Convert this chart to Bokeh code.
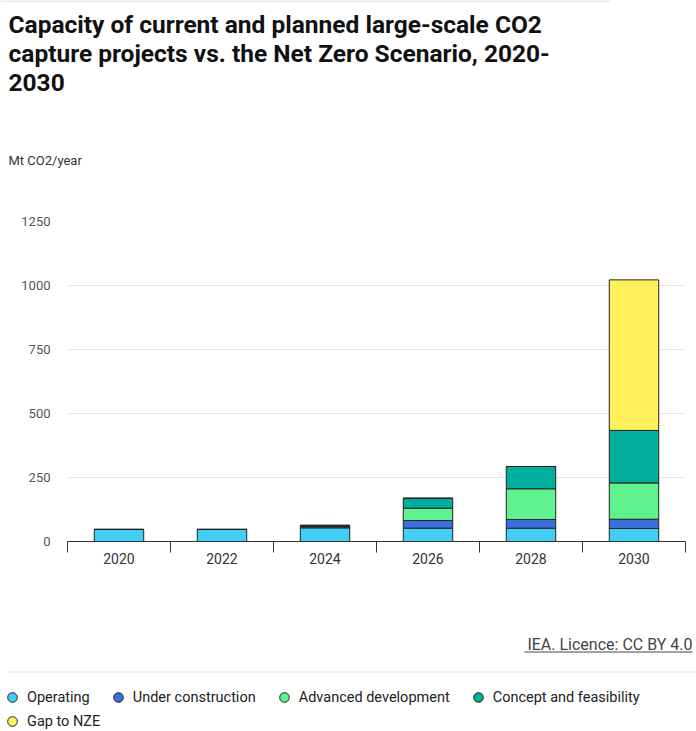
from bokeh.plotting import figure
from bokeh.layouts import column
from bokeh.models import (ColumnDataSource, FixedTicker, Label, Legend, LegendItem, Range1d)
from bokeh.embed import file_html
from bokeh.resources import INLINE

# ---------------- data ----------------
years = ["2020", "2022", "2024", "2026", "2028", "2030"]
operating = [47, 47, 54, 52, 52, 51]
under_construction = [0, 0, 0, 30, 34, 36]
advanced_development = [0, 0, 4, 48, 120, 142]
concept_feasibility = [0, 0, 5, 39, 87, 205]
gap_to_nze = [0, 0, 0, 0, 0, 588]
y_ticks = [0, 250, 500, 750, 1000, 1250]

series = ["Operating", "Under construction", "Advanced development",
          "Concept and feasibility", "Gap to NZE"]
colors = ["#42cdf6", "#3a6fdc", "#5ff28f", "#00ae9b", "#fff15c"]

title_lines = ["Capacity of current and planned large-scale CO2",
               "capture projects vs. the Net Zero Scenario, 2020-",
               "2030"]
unit_label = "Mt CO2/year"
source_text = "IEA. Licence: CC BY 4.0"

# ---------------- layout constants ----------------
W = 696
HEAD_H = 200          # page y 0..200
CHART_H = 390         # page y 200..590
FOOT_H = 731 - HEAD_H - CHART_H
FL, FR = 67, 685
FT, FB = 221, 541     # frame top / bottom in page pixels


def blank(height, y_top):
    f = figure(width=W, height=height, output_backend="svg", toolbar_location=None,
               x_range=Range1d(0, W), y_range=Range1d(y_top + height, y_top),
               min_border=0, min_border_left=0, min_border_right=0,
               min_border_top=0, min_border_bottom=0, frame_align=False)
    f.axis.visible = False
    f.grid.visible = False
    f.outline_line_color = None
    f.background_fill_color = "white"
    f.border_fill_color = "white"
    return f


# ---------------- header ----------------
head = blank(HEAD_H, 0)
head.segment(x0=[0], y0=[0.5], x1=[610], y1=[0.5], line_color="#e2e2e2", line_width=1.5)
for i, t in enumerate(title_lines):
    head.add_layout(Label(x=8, y=24 + 29 * i, text=t,
                          text_font="Roboto", text_font_style="bold",
                          text_font_size="24.5px", text_color="#111111",
                          text_baseline="alphabetic"))
head.add_layout(Label(x=8, y=160, text=unit_label, text_font="Roboto",
                      text_font_size="13px", text_color="#333333",
                      text_baseline="alphabetic"))

# ---------------- chart ----------------
xs = list(range(len(years)))
cols = ["operating", "under", "advanced", "concept", "gap"]
src = ColumnDataSource(dict(x=xs, operating=operating, under=under_construction,
                            advanced=advanced_development,
                            concept=concept_feasibility, gap=gap_to_nze))

p = figure(width=W, height=CHART_H, output_backend="svg", toolbar_location=None,
           x_range=Range1d(-0.5, len(years) - 0.5), y_range=Range1d(0, 1250),
           min_border_left=FL, min_border_right=W - FR,
           min_border_top=FT - HEAD_H, min_border_bottom=HEAD_H + CHART_H - FB,
           frame_align=False)
p.outline_line_color = None
p.background_fill_color = "white"
p.border_fill_color = "white"

p.vbar_stack(cols, x="x", width=0.48, source=src, color=colors,
             line_color="#222222", line_width=1)

xa = p.xaxis[0]
xa.ticker = FixedTicker(ticks=xs, minor_ticks=[i - 0.5 for i in range(len(years) + 1)])
xa.major_label_overrides = {i: y for i, y in enumerate(years)}
xa.major_tick_in = 0
xa.major_tick_out = 0
xa.minor_tick_in = 0
xa.minor_tick_out = 11
xa.minor_tick_line_color = "#333333"
xa.axis_line_color = "#333333"
xa.major_label_standoff = 0
xa.major_label_text_font = "Roboto"
xa.major_label_text_font_size = "14px"
xa.major_label_text_color = "#333333"

ya = p.yaxis[0]
ya.ticker = FixedTicker(ticks=y_ticks)
ya.axis_line_color = None
ya.major_tick_line_color = None
ya.major_tick_out = 0
ya.major_tick_in = 0
ya.minor_tick_line_color = None
ya.minor_tick_out = 0
ya.major_label_standoff = 17
ya.major_label_text_font = "Roboto"
ya.major_label_text_font_size = "13px"
ya.major_label_text_color = "#555555"

p.xgrid.grid_line_color = None
p.ygrid.grid_line_color = "#e6e6e6"
p.ygrid.ticker = FixedTicker(ticks=y_ticks)

# ---------------- footer ----------------
foot_top = HEAD_H + CHART_H
foot = blank(FOOT_H, foot_top)
foot.add_layout(Label(x=692, y=644, text=source_text, text_font="Roboto",
                      text_font_size="16px", text_color="#444444",
                      text_align="right", text_baseline="alphabetic"))
foot.segment(x0=[524], y0=[651.5], x1=[692], y1=[651.5], line_color="#444444", line_width=1)
foot.segment(x0=[8], y0=[671.5], x1=[696], y1=[671.5], line_color="#dddddd", line_width=1)

dummies = []
for c in colors:
    dummies.append(foot.scatter(x=[-1000], y=[-1000], marker="circle", size=9,
                                fill_color=c, line_color="#222222", line_width=1))


def make_legend(idx, center_px):
    gh = 24
    lg = Legend(items=[LegendItem(label=series[i], renderers=[dummies[i]]) for i in idx],
                orientation="horizontal", location=(0, 731 - (center_px + gh / 2)),
                glyph_width=24, glyph_height=gh, label_height=gh,
                label_standoff=3, spacing=16,
                padding=0, margin=0, border_line_color=None,
                background_fill_alpha=0, label_text_font="Roboto",
                label_text_font_size="14.5px", label_text_color="#222222")
    foot.add_layout(lg, "center")


make_legend([0, 1, 2, 3], 697)
make_legend([4], 721)

layout = column(head, p, foot, spacing=0)
open("out.html", "w").write(file_html(layout, INLINE))
